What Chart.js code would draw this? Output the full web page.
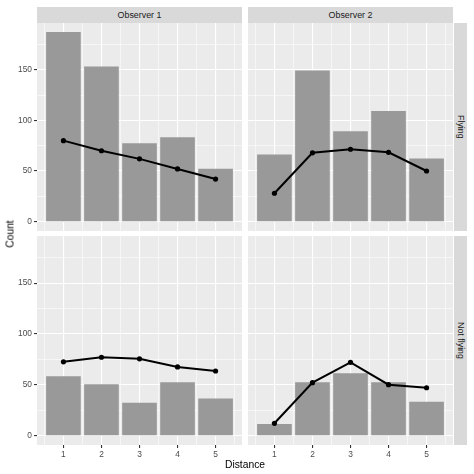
<!DOCTYPE html>
<html>
<head>
<meta charset="utf-8">
<script src="https://cdn.jsdelivr.net/npm/chart.js@4.4.1/dist/chart.umd.min.js"></script>
<style>
    body { margin: 0; background: #fff; font-family: "Liberation Sans", Arial, sans-serif; }
    #wrap { position: relative; width: 474px; height: 474px; overflow: hidden; }
    canvas, .strip, .title { position: absolute; }
    .strip { background: #D9D9D9; color: #1A1A1A; font-size: 8.9px; font-weight: normal; display: flex; align-items: center; justify-content: center; }
    .strip.side span { writing-mode: vertical-rl; }
    .title { color: #000; font-size: 10.3px; font-weight: normal; white-space: nowrap; }
</style>
</head>
<body>
<div id="wrap">
    <div class="strip" style="left:37px;top:7px;width:205px;height:16px;">Observer 1</div>
    <div class="strip" style="left:248px;top:7px;width:205px;height:16px;">Observer 2</div>
    <div class="strip side" style="left:454px;top:23px;width:13px;height:208px;"><span>Flying</span></div>
    <div class="strip side" style="left:454px;top:236px;width:13px;height:209px;"><span>Not flying</span></div>

    <canvas id="tl" width="230" height="208" style="left:12px;top:23px;"></canvas>
    <canvas id="tr" width="205" height="208" style="left:248px;top:23px;"></canvas>
    <canvas id="bl" width="230" height="224" style="left:12px;top:236px;"></canvas>
    <canvas id="br" width="205" height="224" style="left:248px;top:236px;"></canvas>

    <div class="title" style="left:10px;top:234px;transform:translate(-50%,-50%) rotate(-90deg);">Count</div>
    <div class="title" style="left:245px;top:464px;transform:translate(-50%,-50%);">Distance</div>
</div>

<script>
// distance classes on the x axis
var distances = [1, 2, 3, 4, 5];

// bar counts and line values, per panel
var flyingObs1Counts = [187, 153, 77, 83, 52];
var flyingObs1Line = [80, 70, 62, 52, 42];
var flyingObs2Counts = [66, 149, 89, 109, 62];
var flyingObs2Line = [28, 68, 71.5, 68.5, 50];
var notFlyingObs1Counts = [58, 50, 32, 52, 36];
var notFlyingObs1Line = [72.5, 77, 75.5, 67.5, 63.5];
var notFlyingObs2Counts = [11, 52, 61, 52, 33];
var notFlyingObs2Line = [12, 52, 72, 50, 47];

// axis breaks (major + minor grid)
var xBreaks = [0.5, 1, 1.5, 2, 2.5, 3, 3.5, 4, 4.5, 5, 5.5];
var yBreaks = [0, 25, 50, 75, 100, 125, 150, 175];
var yLabels = [0, 50, 100, 150];

var tickFont = { family: "'Liberation Sans', Arial, sans-serif", size: 8.4 };

// grey panel background like ggplot
var panelBg = {
    id: 'panelBg',
    beforeDraw: function (chart) {
        var a = chart.chartArea;
        chart.ctx.save();
        chart.ctx.fillStyle = '#EBEBEB';
        chart.ctx.fillRect(a.left, a.top, a.right - a.left, a.bottom - a.top);
        chart.ctx.restore();
    }
};

function toPoints(values) {
    return values.map(function (v, i) { return { x: distances[i], y: v }; });
}

function makePanel(id, counts, line, showY, showX) {
    var ctx = document.getElementById(id).getContext('2d');
    return new Chart(ctx, {
        type: 'bar',
        data: {
            datasets: [{
                type: 'line',
                data: toPoints(line),
                borderColor: '#000',
                borderWidth: 2,
                pointRadius: 2.6,
                pointBackgroundColor: '#000',
                pointBorderWidth: 0,
                tension: 0,
                order: 0
            }, {
                type: 'bar',
                data: toPoints(counts),
                backgroundColor: '#999999',
                borderWidth: 0,
                barThickness: 34,
                order: 1
            }]
        },
        options: {
            responsive: false,
            animation: false,
            layout: { padding: 0, autoPadding: false },
            plugins: { legend: { display: false }, tooltip: { enabled: false } },
            scales: {
                x: {
                    type: 'linear',
                    offset: false,
                    min: 0.305,
                    max: 5.695,
                    afterBuildTicks: function (scale) {
                        scale.ticks = xBreaks.map(function (v) { return { value: v }; });
                    },
                    afterFit: function (scale) {
                        scale.height = showX ? 15 : 0;
                        scale.paddingLeft = 0;
                        scale.paddingRight = 0;
                    },
                    border: { display: false },
                    grid: {
                        offset: false,
                        color: '#FFFFFF',
                        lineWidth: function (c) { return c.tick && c.tick.value % 1 === 0 ? 1.1 : 0.55; },
                        drawTicks: showX,
                        tickLength: 3,
                        tickColor: function (c) { return c.tick && c.tick.value % 1 === 0 ? '#333333' : 'rgba(0,0,0,0)'; }
                    },
                    ticks: {
                        display: showX,
                        autoSkip: false,
                        maxRotation: 0,
                        padding: 2,
                        color: '#4D4D4D',
                        font: tickFont,
                        callback: function (v) { return v % 1 === 0 ? String(v) : ''; }
                    }
                },
                y: {
                    type: 'linear',
                    min: -9.35,
                    max: 196.35,
                    afterBuildTicks: function (scale) {
                        scale.ticks = yBreaks.map(function (v) { return { value: v }; });
                    },
                    afterFit: function (scale) {
                        scale.width = showY ? 25 : 0;
                        scale.paddingTop = 0;
                        scale.paddingBottom = 0;
                    },
                    border: { display: false },
                    grid: {
                        color: '#FFFFFF',
                        lineWidth: function (c) { return c.tick && yLabels.indexOf(c.tick.value) >= 0 ? 1.1 : 0.55; },
                        drawTicks: showY,
                        tickLength: 3,
                        tickColor: function (c) { return c.tick && yLabels.indexOf(c.tick.value) >= 0 ? '#333333' : 'rgba(0,0,0,0)'; }
                    },
                    ticks: {
                        display: showY,
                        autoSkip: false,
                        padding: 2,
                        color: '#4D4D4D',
                        font: tickFont,
                        callback: function (v) { return yLabels.indexOf(v) >= 0 ? String(v) : ''; }
                    }
                }
            }
        },
        plugins: [panelBg]
    });
}

makePanel('tl', flyingObs1Counts, flyingObs1Line, true, false);
makePanel('tr', flyingObs2Counts, flyingObs2Line, false, false);
makePanel('bl', notFlyingObs1Counts, notFlyingObs1Line, true, true);
makePanel('br', notFlyingObs2Counts, notFlyingObs2Line, false, true);
</script>
</body>
</html>
